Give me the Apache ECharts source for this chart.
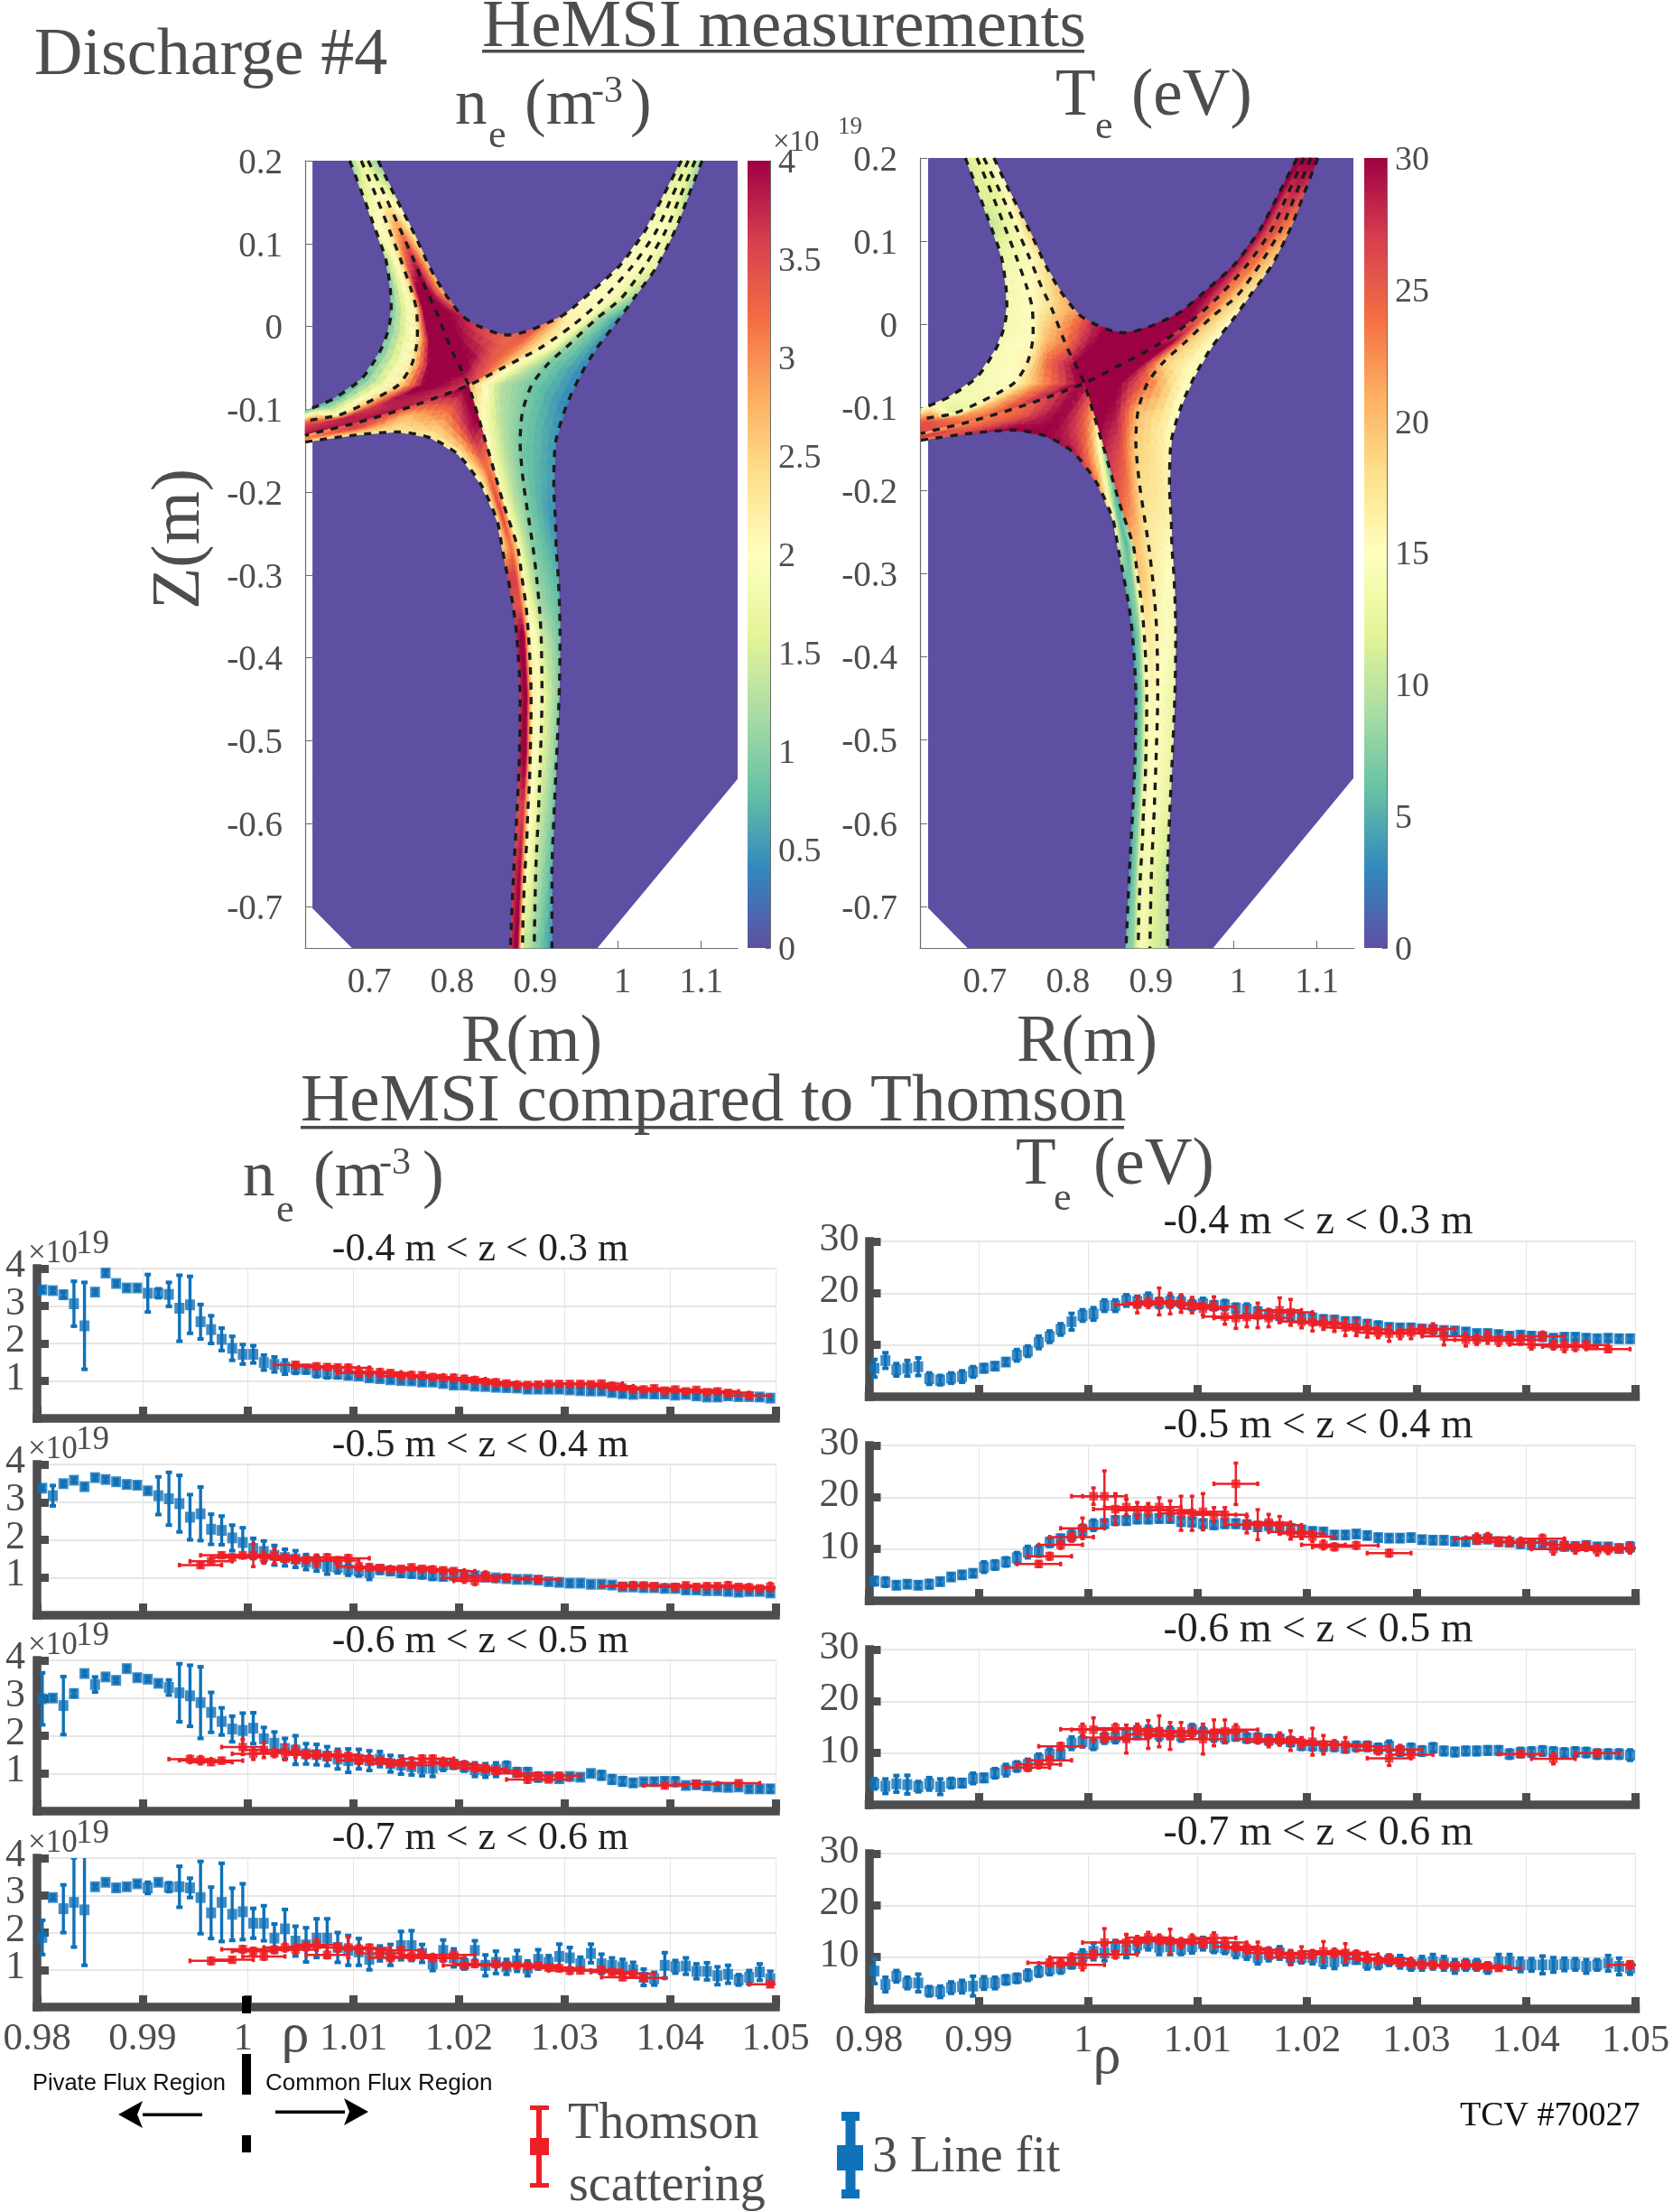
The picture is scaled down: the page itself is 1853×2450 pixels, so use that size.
<!DOCTYPE html>
<html><head><meta charset="utf-8">
<style>html,body{margin:0;background:#fff}#c{width:1853px;height:2450px}</style>
<script src="https://cdn.jsdelivr.net/npm/echarts@6/dist/echarts.min.js"></script>
</head><body><div id="c"></div>
<script>
// TCV #70027 HeMSI maps and flux-surface profiles.

// Spectral colour table used by both maps.
const spectral = ['#5E4FA2','#3288BD','#66C2A5','#ABDDA4','#E6F598','#FFFFBF','#FEE08B','#FDAE61','#F46D43','#D53E4F','#9E0142'];

// Vessel outline in (R, z), metres.
const vesselOutline = [[0.6315,0.2],[1.144,0.2],[1.144,-0.546],[0.975,-0.75],[0.679,-0.75],[0.6315,-0.702]];

// Mesh rails in (R, z): each rail runs along a flux contour, one point per station.
const leftOuterRail = [[.6764,.2],[.6903,.1633],[.707,.1179],[.7197,.0816],[.7253,.0453],[.7264,.0199],[.7225,-.0055],[.7125,-.0309],[.6903,-.0636],[.657,-.0872],[.6445,-.093],[.632,-.0981],[.6227,-.1015]];
const leftInnerRail = [[.6903,.2],[.7058,.1633],[.7236,.1179],[.7375,.0816],[.7502,.0453],[.7569,.0199],[.758,-.0128],[.7513,-.0455],[.7347,-.0709],[.6958,-.0927],[.6625,-.1072],[.632,-.1126],[.6227,-.1155]];
const leftMidRail = [[.6936,.2],[.71,.1633],[.729,.1179],[.7437,.0816],[.7573,.0453],[.7661,.0199],[.7742,-.0186],[.7748,-.0473],[.7687,-.0709],[.7015,-.0992],[.6714,-.1108],[.632,-.1192],[.6227,-.1215]];
const leftSepRail = [[.6986,.2],[.7164,.1633],[.737,.1179],[.753,.0816],[.768,.0453],[.78,.0199],[.7986,-.0273],[.81,-.05],[.8196,-.0709],[.71,-.109],[.6847,-.1163],[.632,-.129],[.6227,-.1315]];
const topSepRail = [[.6986,.2],[.7164,.1633],[.737,.1179],[.753,.0816],[.768,.0453],[.78,.0199],[.7986,-.0273],[.81,-.05],[.8196,-.0709],[.8624,-.0491],[.9068,-.0255],[.9457,.0017],[.979,.0308],[1.0168,.0726],[1.0456,.1143],[1.065,.157],[1.0845,.2]];
const topBoundaryRail = [[.7108,.2],[.728,.1633],[.753,.1143],[.7736,.07],[.791,.04],[.812,.013],[.8291,.0017],[.8568,-.0091],[.8707,-.0102],[.8957,-.0037],[.929,.0108],[.94,.018],[.97,.044],[1.0012,.0726],[1.0318,.1143],[1.054,.157],[1.0762,.2]];
const rightSepRail = [[1.0845,.2],[1.065,.157],[1.0456,.1143],[1.0168,.0726],[.979,.0308],[.9457,.0017],[.9068,-.0255],[.8624,-.0491],[.8196,-.0709],[.8319,-.1108],[.8458,-.158],[.8624,-.2161],[.8789,-.267],[.884,-.303],[.889,-.338],[.892,-.374],[.895,-.445],[.894,-.516],[.891,-.586],[.8875,-.659],[.8847,-.75]];
const rightMidRail = [[1.0887,.2],[1.0699,.157],[1.0512,.1143],[1.0243,.0726],[.9915,.0326],[.9596,.0054],[.9249,-.0228],[.8888,-.0473],[.8577,-.0709],[.8583,-.1072],[.8638,-.149],[.8742,-.203],[.8882,-.267],[.8929,-.303],[.897,-.338],[.8996,-.374],[.9016,-.445],[.9002,-.516],[.8975,-.586],[.8941,-.659],[.8918,-.75]];
const rightInnerRail = [[1.0928,.2],[1.0748,.157],[1.0567,.1143],[1.0318,.0726],[1.004,.0344],[.9734,.009],[.9429,-.02],[.9151,-.0455],[.8957,-.0709],[.8846,-.1035],[.8818,-.1399],[.886,-.19],[.8974,-.267],[.9017,-.303],[.905,-.338],[.9072,-.374],[.9082,-.445],[.9064,-.516],[.9039,-.586],[.9006,-.659],[.8988,-.75]];
const rightOuterRail = [[1.1011,.2],[1.0845,.157],[1.0678,.1143],[1.0456,.0707],[1.0206,.0362],[1.0012,.009],[.9734,-.0273],[.954,-.06],[.9374,-.0963],[.9246,-.1399],[.9224,-.1943],[.9246,-.2379],[.9253,-.267],[.9278,-.303],[.9293,-.338],[.93,-.374],[.9289,-.445],[.926,-.516],[.9228,-.586],[.9202,-.659],[.9202,-.75]];
const bottomBoundaryRail = [[.6227,-.1395],[.632,-.138],[.6847,-.1308],[.7347,-.1272],[.7736,-.1344],[.8069,-.1544],[.8346,-.1907],[.8541,-.2343],[.86,-.267],[.867,-.303],[.8734,-.338],[.8778,-.374],[.8818,-.445],[.881,-.516],[.878,-.586],[.874,-.659],[.87,-.75]];
const bottomMidRail = [[.6227,-.135],[.632,-.1326],[.6847,-.1221],[.7447,-.1087],[.8012,-.0963],[.8223,-.1282],[.8412,-.1711],[.8591,-.2234],[.8713,-.267],[.8772,-.303],[.8828,-.338],[.8864,-.374],[.8897,-.445],[.8888,-.516],[.8858,-.586],[.8821,-.659],[.8788,-.75]];
const bottomSepRail = [[.6227,-.1315],[.632,-.129],[.6847,-.1163],[.7513,-.0963],[.8196,-.0709],[.8319,-.1108],[.8458,-.158],[.8624,-.2161],[.8789,-.267],[.884,-.303],[.889,-.338],[.892,-.374],[.895,-.445],[.894,-.516],[.891,-.586],[.8875,-.659],[.8847,-.75]];

// Dashed separatrix legs crossing at the X-point.
const separatrixA = [[.6986,.2],[.7164,.1633],[.737,.1179],[.753,.0816],[.768,.0453],[.78,.0199],[.7986,-.0273],[.81,-.05],[.8196,-.0709],[.8319,-.1108],[.8458,-.158],[.8624,-.2161],[.8789,-.267],[.884,-.303],[.889,-.338],[.892,-.374],[.894,-.409],[.895,-.445],[.8948,-.481],[.894,-.516],[.893,-.552],[.891,-.586],[.8897,-.623],[.8875,-.659],[.8854,-.71],[.8847,-.75]];
const separatrixB = [[1.0845,.2],[1.065,.157],[1.0456,.1143],[1.0168,.0726],[.979,.0308],[.9457,.0017],[.9068,-.0255],[.8624,-.0491],[.8196,-.0709],[.7513,-.0963],[.6847,-.1163],[.632,-.129],[.6227,-.1315]];

// Electron density at the mesh nodes, 1e19 m^-3 (rows: stations, columns: rails).
const neLeft = [[1.0,1.8,1.6,1.4],[1.5,1.9,2.0,1.8],[1.9,2.2,2.6,3.0],[1.2,2.4,3.2,3.8],[.9,2.4,4.0,4.2],[.9,2.3,4.2,4.2],[.9,2.2,4.2,4.2],[.9,2.3,4.2,4.2],[.8,2.3,4.2,3.6],[.6,2.5,3.6,3.9],[.7,2.0,3.8,3.8],[.7,3.2,3.6,3.9],[.7,3.2,3.6,3.9]];
const neTop = [[1.4,1.0],[1.8,1.5],[3.0,2.2],[3.8,2.6],[4.2,2.7],[4.2,3.8],[4.2,3.6],[4.2,3.3],[3.6,3.2],[2.6,3.5],[2.2,2.7],[2.1,2.1],[2.0,2.0],[2.0,1.9],[2.0,1.9],[1.8,1.8],[1.6,1.4]];
const neRight = [[1.6,1.5,1.4,1.1],[1.8,1.8,1.7,1.2],[2.0,2,1.9,1.7],[2.0,2,1.9,1.7],[2.0,1.9,1.6,1.1],[2.1,1.8,1.2,.5],[2.2,1.9,1.1,.45],[2.3,1.6,.95,.4],[2.8,1.3,.9,.4],[2.2,1.3,.95,.5],[2.0,1.3,.9,.55],[2.0,1.3,.95,.45],[2.0,1.4,1.0,.6],[2.1,1.5,1.1,.7],[2.0,1.7,1.2,.8],[2.2,2,1.5,.85],[2.2,2.1,1.8,1.0],[2.2,2,1.7,1.0],[2.1,1.9,1.5,.9],[2.0,1.8,1.4,.7],[1.4,1.3,1.1,.5]];
const neBottom = [[2.3,3.2,2.7],[2.3,3.2,2.7],[2.1,3.6,3.6],[2.3,2.6,3.4],[2.2,3.4,4.2],[2.1,3.8,4.1],[2.0,3.2,3.0],[2.2,3.6,2.8],[2.4,3.2,2.5],[3.6,3.6,2.4],[3.4,3.4,2.4],[3.8,4.2,2.4],[3.6,4.2,2.5],[3.8,4.2,2.5],[3.4,3.6,2.5],[3.6,4.0,2.3],[3.6,4.2,1.8]];

// Electron temperature at the mesh nodes, eV.
const teLeft = [[11,13,13,14],[12,12,12,13],[10,12,13,14],[13,14,14,15],[14,15,15,16],[14,15,16,18],[14,15,20,24],[14,16,24,30],[14,15,22,31],[14,14,20,25],[14,12,22,24],[14,24,26,26],[14,24,26,26]];
const teTop = [[14,15],[13,16],[14,19],[15,17],[16,20],[18,22],[24,28],[31,31],[31,31],[31,31],[30,31],[30,31],[26,31],[25,30],[25,30],[26,31],[30,31]];
const teRight = [[30,30,30,31],[27,28,28,26],[26,26,24,22],[24,24,21,18],[24,22,19,17],[26,25,20,15],[29,30,20,14],[31,31,19,14],[31,31,24,14],[31,29,20,15],[28,26,19,16],[25,23,18,16],[20,19,17,15],[20,19,17,14],[18,18,16,14],[16,17,16,14],[14,16,15,13],[13,15,15,13],[13,15,15,12],[13,14,13,10],[14,14,12,10]];
const teBottom = [[22,28,20],[22,28,20],[28,24,23],[31,25,24],[30,30,30],[29,24,20],[24,16,7],[16,6,5],[12,5,11],[6,7,15],[5,8,16],[4,8,16],[4,8,14],[5,8,14],[5,8,15],[4,8,14],[7,8,13]];

// Radial grid of the three-line fit.
const rhoFit = [.9805,.9815,.9825,.9835,.9845,.9855,.9865,.9875,.9885,.9895,.9905,.9915,.9925,.9935,.9945,.9955,.9965,.9975,.9985,.9995,1.0005,1.0015,1.0025,1.0035,1.0045,1.0055,1.0065,1.0075,1.0085,1.0095,1.0105,1.0115,1.0125,1.0135,1.0145,1.0155,1.0165,1.0175,1.0185,1.0195,1.0205,1.0215,1.0225,1.0235,1.0245,1.0255,1.0265,1.0275,1.0285,1.0295,1.0305,1.0315,1.0325,1.0335,1.0345,1.0355,1.0365,1.0375,1.0385,1.0395,1.0405,1.0415,1.0425,1.0435,1.0445,1.0455,1.0465,1.0475,1.0485,1.0495];

// Three-line fit density and its error, one list per z window.
const neFit1 = [3.43,3.41,3.30,3.06,2.47,3.37,3.88,3.6,3.48,3.48,3.34,3.34,3.31,2.94,3.03,2.58,2.37,2.11,1.87,1.71,1.71,1.49,1.44,1.37,1.32,1.31,1.23,1.2,1.18,1.15,1.13,1.08,1.06,1.03,1.01,1.0,.97,.97,.93,.89,.89,.86,.85,.83,.82,.81,.78,.78,.78,.78,.76,.74,.73,.73,.69,.66,.64,.66,.65,.65,.62,.64,.6,.57,.57,.6,.58,.58,.57,.54];
const neFitErr1 = [.06,.06,.08,.6,1.16,.06,.06,.06,.06,.06,.5,.12,.32,.88,.76,.46,.37,.3,.32,.26,.23,.2,.2,.19,.12,.1,.12,.12,.1,.08,.06,.06,.06,.06,.06,.06,.06,.06,.06,.06,.06,.06,.06,.06,.06,.06,.06,.06,.06,.06,.06,.06,.06,.06,.06,.06,.06,.06,.06,.06,.06,.06,.06,.06,.06,.06,.06,.06,.06,.06];
const neFit2 = [3.37,3.17,3.49,3.58,3.41,3.65,3.6,3.54,3.47,3.45,3.3,3.17,3.09,2.96,2.6,2.69,2.28,2.25,2.05,1.93,1.77,1.69,1.59,1.53,1.49,1.41,1.37,1.29,1.27,1.21,1.17,1.13,1.21,1.17,1.13,1.11,1.09,1.05,1.03,1.05,1.07,1.05,1.01,.99,.97,.95,.95,.93,.89,.87,.85,.85,.82,.82,.8,.75,.75,.73,.73,.71,.71,.67,.67,.65,.65,.63,.61,.63,.63,.59];
const neFitErr2 = [.06,.27,.06,.06,.06,.06,.06,.06,.06,.06,.06,.5,.7,.75,.6,.71,.4,.38,.34,.39,.27,.28,.26,.22,.22,.2,.2,.2,.15,.15,.13,.18,.1,.08,.1,.1,.1,.1,.08,.08,.06,.06,.06,.06,.06,.06,.06,.06,.06,.06,.06,.06,.06,.06,.06,.06,.06,.06,.06,.06,.06,.06,.06,.06,.06,.06,.06,.06,.06,.06];
const neFit3 = [2.98,3.0,2.8,3.12,3.65,3.36,3.56,3.47,3.78,3.54,3.5,3.39,3.28,3.14,3.06,2.88,2.62,2.38,2.18,2.14,2.2,1.92,1.8,1.66,1.62,1.52,1.5,1.46,1.38,1.34,1.38,1.34,1.38,1.26,1.22,1.18,1.14,1.14,1.22,1.24,1.18,1.1,1.08,1.1,1.18,1.03,1.03,.9,.92,.86,.92,.9,1.0,.95,.84,.79,.75,.78,.78,.79,.78,.68,.7,.67,.64,.63,.64,.59,.59,.59];
const neFitErr3 = [.69,.06,.77,.08,.06,.2,.06,.06,.06,.06,.06,.06,.2,.77,.81,.95,.53,.36,.34,.46,.41,.3,.3,.27,.38,.27,.27,.25,.26,.31,.26,.26,.2,.22,.24,.22,.2,.22,.14,.1,.12,.18,.18,.18,.12,.1,.1,.1,.08,.06,.06,.06,.06,.1,.1,.1,.08,.06,.08,.08,.1,.06,.08,.06,.06,.06,.06,.06,.06,.08];
const neFit4 = [1.87,2.94,2.64,2.81,2.61,3.23,3.35,3.2,3.23,3.31,3.2,3.35,3.22,3.23,3.2,2.94,2.53,2.81,2.49,2.56,2.25,2.25,1.85,2.1,1.77,1.67,1.85,1.85,1.6,1.52,1.48,1.28,1.44,1.4,1.65,1.65,1.44,1.16,1.52,1.32,1.16,1.52,1.12,1.2,1.08,1.24,1.04,1.28,1.2,1.36,1.32,1.16,1.44,1.16,1.12,1.08,1.0,.8,.76,1.12,1.08,1.1,.96,.96,.84,.88,.73,.8,.94,.76];
const neFitErr4 = [.46,.06,.64,1.2,1.49,.06,.06,.06,.06,.06,.15,.06,.12,.55,.26,.97,.69,1.05,.7,.75,.4,.47,.38,.52,.4,.46,.52,.52,.4,.4,.36,.28,.2,.28,.38,.4,.24,.18,.28,.24,.14,.26,.28,.3,.2,.28,.2,.26,.18,.33,.28,.18,.25,.26,.2,.2,.2,.22,.17,.34,.17,.22,.2,.23,.24,.24,.14,.18,.22,.2];

// Three-line fit temperature and its error, one list per z window.
const teFit1 = [5.5,7.0,5.2,5.5,5.8,3.5,3.2,3.6,3.9,4.8,5.5,5.9,6.7,8.0,8.8,10.5,11.6,13.0,14.5,15.7,16,17.6,17.6,18.6,18.4,18.9,18.1,18.4,18.3,17.7,18.0,17.6,17.7,17.1,16.9,16.4,15.9,15.7,15.6,15.2,15.2,14.9,14.8,14.5,14.5,14,13.7,13.4,13.3,13.3,13.1,13.0,12.8,12.7,12.5,12.2,12.2,12.0,11.7,11.9,11.7,11.6,11.3,11.5,11.5,11.3,11.2,11.3,11.2,11.2];
const teFitErr1 = [1.7,1.5,1.2,1.5,1.7,1.1,.9,1.0,1.1,1.0,.7,.6,.6,1.1,1,1.2,1.1,1.1,1.6,1.1,1.2,1.1,1.1,1.1,1.0,1.1,.9,1.1,1.0,.9,1.0,.8,.9,.8,1,.8,.8,.8,.7,.7,.7,.7,.7,.7,.7,.7,.7,.6,.6,.6,.6,.6,.6,.6,.6,.6,.6,.6,.6,.6,.6,.6,.6,.6,.6,.6,.6,.6,.6,.6];
const teFit2 = [3.8,3.6,3.0,3.2,3,3.2,3.7,4.6,5.0,5.3,6.5,6.9,7.5,8.3,9.4,9.6,11.3,12,12.6,13.6,14.6,14.9,15.5,15.5,15.8,15.8,15.9,15.9,15.3,15.2,14.9,14.7,14.9,14.9,14.7,14.3,14.5,14.1,14,13.7,13.4,13.3,12.7,12.7,12.9,12.6,12.2,12.1,12.1,12.2,11.8,11.7,11.7,11.5,11.4,11.8,11.9,11.4,11.3,11,10.8,10.9,10.7,10.5,10.5,10.7,10.4,10.4,10.1,10.4];
const teFitErr2 = [.7,.8,.6,.6,.6,.7,.6,.6,.6,.6,1,.8,.8,1,1.1,1,.8,.6,1,1,1,.7,.7,.7,.7,.7,.7,.7,.7,.7,.7,.7,.7,.7,.7,.7,.6,.6,.6,.6,.6,.6,.6,.6,.6,.6,.6,.6,.6,.6,.6,.6,.6,.6,.6,.6,.6,.6,.6,.6,.6,.6,.6,.6,.6,.6,.6,.6,.6,.8];
const teFit3 = [4.05,3.6,4.05,3.9,3.5,4.05,3.5,4.2,4.2,5.1,5.2,6.1,6.7,7.4,7.8,8.8,9.8,9.7,11.9,12.2,11.7,12.9,13,13.6,13.9,14.1,13.6,13.9,13.3,14.5,13.9,13.3,13,13.3,12.9,12.9,12.6,12.7,12.2,11.5,11.4,11.3,11.3,11,11.3,11.3,10.9,11.3,10.4,10.9,10.4,11,10.4,10.2,10.4,10.4,10.5,10.5,9.8,10.1,10.2,10.4,10.2,10,10.2,10.1,9.8,9.8,9.8,9.6];
const teFitErr3 = [1,1.4,1.6,1.8,1,1.2,1.5,.9,.7,1,.7,.9,1.1,.9,1,1,1,1,1.2,1,1,1,1,1,1.1,1.1,1.1,1.1,1,1,1,1,1,.8,.8,.8,.8,.8,.8,.8,.8,.8,.8,.8,.8,.8,.8,1,.8,.8,.8,.8,.7,.7,.7,.7,.7,.7,.8,.8,.8,.8,.8,.8,.8,.8,.8,.8,.8,1];
const teFit4 = [7.3,4.7,6.3,5,5,3.4,3.3,4.1,4.3,4.4,5,5,5.6,5.9,6.5,7.2,7.6,7.9,8.7,10.2,11.1,10.8,12,11.4,12.3,12.6,11.9,12,11.5,12,12.6,11.9,11.7,11.1,10.8,9.9,10.5,10.8,9.9,9.9,9.9,9.1,9.1,9.7,9.5,8.8,8.8,9.4,9.1,8.5,8.8,9.1,8.8,8.2,8.5,8.5,7.9,9.1,9.1,8.5,8.5,8.5,8.5,8.6,8.6,8.2,8.5,8.8,8.2,7.9];
const teFitErr4 = [2.4,1.4,1.1,1.1,1.7,.9,1.1,1.1,1.2,1.9,1.2,1.1,.8,.8,1,.9,1,1,.8,1.2,1.6,1.5,1.2,1.5,1.3,1.2,1.4,1.5,1,1.2,1.2,1,1,1.2,1.2,1.2,1.2,1.2,1.2,1,1.2,1.1,1.3,1.2,.6,1.1,1,1,1.2,1,1.3,1.4,1.3,1.3,1,1,1,1.4,1.4,1.3,1.2,1.7,1.4,1.2,1.1,1.3,1,1.5,1.6,1.2];

// Half-width of the Thomson radial error bars.
const thomsonRhoErr = 0.002;

// Thomson scattering density: [rho, value, error].
const neThomson1 = [[1.0045,1.43,.06],[1.0065,1.39,.06],[1.0075,1.37,.06],[1.0085,1.36,.06],[1.0095,1.35,.08],[1.0105,1.21,.08],[1.0115,1.24,.12],[1.0125,1.23,.08],[1.0135,1.21,.06],[1.0145,1.13,.06],[1.0155,1.15,.08],[1.0165,1.15,.06],[1.0175,1.1,.06],[1.0185,1.08,.06],[1.0195,1.08,.08],[1.0205,1.05,.08],[1.0215,1.02,.06],[1.0225,.97,.05],[1.0235,.96,.05],[1.0245,.93,.05],[1.0255,.89,.05],[1.0265,.89,.05],[1.0275,.9,.05],[1.0285,.92,.05],[1.0295,.92,.05],[1.0305,.92,.05],[1.0315,.92,.05],[1.0325,.91,.05],[1.0335,.93,.05],[1.0345,.86,.08],[1.0355,.82,.05],[1.0365,.77,.05],[1.0375,.77,.05],[1.0385,.8,.06],[1.0395,.74,.05],[1.0405,.77,.06],[1.0415,.72,.05],[1.0425,.76,.05],[1.0435,.7,.05],[1.0445,.72,.05],[1.0455,.68,.05],[1.0475,.61,.04]];
const neThomson2 = [[.9955,1.33,.06],[.9965,1.43,.06],[.9975,1.59,.06],[.9985,1.53,.06],[.9995,1.59,.06],[1.0005,1.59,.3],[1.0015,1.53,.15],[1.0025,1.57,.2],[1.0035,1.51,.1],[1.0045,1.47,.08],[1.0055,1.47,.08],[1.0065,1.45,.15],[1.0075,1.53,.08],[1.0085,1.45,.08],[1.0095,1.51,.08],[1.0105,1.29,.08],[1.0115,1.27,.08],[1.0125,1.25,.06],[1.0135,1.21,.06],[1.0145,1.23,.06],[1.0155,1.27,.06],[1.0165,1.23,.06],[1.0175,1.21,.06],[1.0185,1.19,.06],[1.0195,1.17,.06],[1.0205,.99,.12],[1.0215,.91,.1],[1.0225,1.05,.1],[1.0245,.99,.05],[1.0275,.95,.05],[1.0355,.77,.06],[1.0365,.79,.08],[1.0375,.79,.06],[1.0385,.77,.06],[1.0405,.75,.06],[1.0415,.79,.06],[1.0425,.75,.06],[1.0435,.77,.06],[1.0445,.77,.06],[1.0455,.79,.08],[1.0465,.75,.06],[1.0475,.73,.08],[1.0485,.71,.06],[1.0495,.75,.1]];
const neThomson3 = [[.9945,1.38,.08],[.9955,1.35,.1],[.9965,1.3,.06],[.9975,1.34,.06],[.9995,1.7,.2],[1.0005,1.52,.15],[1.0015,1.62,.2],[1.0025,1.54,.1],[1.0035,1.56,.2],[1.0045,1.58,.15],[1.0055,1.5,.08],[1.0065,1.5,.08],[1.0075,1.46,.1],[1.0085,1.5,.08],[1.0095,1.46,.08],[1.0105,1.34,.08],[1.0115,1.38,.08],[1.0125,1.34,.06],[1.0135,1.26,.06],[1.0145,1.28,.06],[1.0155,1.22,.06],[1.0165,1.39,.08],[1.0175,1.39,.08],[1.0185,1.3,.08],[1.0195,1.26,.06],[1.0205,1.22,.06],[1.0215,1.15,.06],[1.0225,1.12,.06],[1.0235,1.07,.06],[1.0255,1.0,.06],[1.0265,.84,.08],[1.0275,.94,.06],[1.0285,.84,.06],[1.0295,.94,.06],[1.0395,.68,.05],[1.0425,.72,.05],[1.0465,.74,.05]];
const neThomson4 = [[.9965,1.24,.08],[.9985,1.27,.06],[.9995,1.55,.08],[1.0005,1.5,.08],[1.0015,1.36,.08],[1.0025,1.54,.08],[1.0035,1.6,.1],[1.0045,1.54,.1],[1.0055,1.62,.1],[1.0065,1.67,.15],[1.0075,1.4,.08],[1.0085,1.6,.1],[1.0095,1.6,.27],[1.0105,1.56,.1],[1.0115,1.59,.08],[1.0125,1.44,.08],[1.0135,1.32,.08],[1.0145,1.52,.1],[1.0155,1.36,.08],[1.0165,1.4,.1],[1.0175,1.32,.08],[1.0185,1.32,.08],[1.0195,1.4,.08],[1.0205,1.12,.06],[1.0215,1.16,.08],[1.0235,1.15,.06],[1.0245,1.12,.08],[1.0255,1.12,.06],[1.0265,1.1,.06],[1.0275,1.12,.06],[1.0285,1.06,.06],[1.0295,1.04,.06],[1.0305,.98,.08],[1.0315,.98,.06],[1.0335,1.0,.06],[1.0345,.94,.06],[1.0355,.8,.06],[1.0365,.9,.06],[1.0375,.78,.06],[1.0495,.61,.05]];

// Thomson scattering temperature: [rho, value, error].
const teThomson1 = [[1.0045,17.8,1.6],[1.0055,18.1,.9],[1.0065,18.4,2.6],[1.0075,18,2],[1.0085,18,1.7],[1.0095,17.7,1.5],[1.0105,17,1.2],[1.0115,17.4,1.9],[1.0125,15.5,1.5],[1.0135,15.2,2],[1.0145,15.4,1.9],[1.0155,15.7,2.4],[1.0165,15.2,1.7],[1.0175,16.7,2.4],[1.0185,16.3,2.5],[1.0195,14.5,1.2],[1.0205,14.4,1.7],[1.0215,14.2,1.2],[1.0225,13.9,1.3],[1.0235,13.4,1.6],[1.0245,13.3,1.5],[1.0255,13,1.5],[1.0265,12.4,1],[1.0275,12.2,1.5],[1.0285,12.2,1],[1.0295,12.4,1.2],[1.0305,12.9,.8],[1.0315,13.1,1],[1.0325,11.7,1.7],[1.0345,11,1.2],[1.0355,11,.9],[1.0365,11.5,1.2],[1.0375,10.8,.9],[1.0385,11,.9],[1.0395,11,.9],[1.0405,10.1,.9],[1.0415,11.7,.8],[1.0425,10,.8],[1.0435,9.7,1],[1.0445,9.7,.8],[1.0455,10,.8],[1.0475,9.2,.5]];
const teThomson2 = [[.9955,7.1,.5],[.9965,8.6,.6],[.9975,10.8,.7],[.9985,12.3,.8],[.9995,14,2],[1.0005,20.2,1.6],[1.0015,20.2,4.9],[1.0025,17.7,3],[1.0035,18.1,1.5],[1.0045,17.5,1.5],[1.0055,17.6,1.2],[1.0065,18.1,1.8],[1.0075,17.5,1.8],[1.0085,16.9,3.3],[1.0095,16.9,3.3],[1.0105,17.2,3.5],[1.0115,16.6,1.4],[1.0125,16.6,1.4],[1.0135,22.6,4],[1.0145,14.7,1.6],[1.0155,14.7,2.9],[1.0165,15.1,1.6],[1.0175,14.6,1.7],[1.0185,13.3,1.4],[1.0195,13,1],[1.0205,12.4,1],[1.0215,10.8,.8],[1.0225,10.4,.6],[1.0245,10.7,.6],[1.0275,9.2,.6],[1.0355,12,.9],[1.0365,12.2,.8],[1.0375,11.4,.7],[1.0385,11.4,.7],[1.0395,11.3,.7],[1.0405,11.2,.7],[1.0415,12,.7],[1.0425,10,1],[1.0435,10.8,1],[1.0445,10.2,1],[1.0455,10.5,.8],[1.0465,9.8,1],[1.0475,10,.9],[1.0485,10.1,.7],[1.0495,10.2,1]];
const teThomson3 = [[.9945,7.2,.6],[.9955,7.8,.7],[.9965,8.6,.8],[.9975,11.3,.6],[.9995,14.6,1],[1.0005,14.5,2.3],[1.0015,13,.8],[1.0025,14.8,.8],[1.0035,12.7,2.7],[1.0045,14.6,1],[1.0055,13.6,2.7],[1.0065,14.2,3],[1.0075,13.3,2.6],[1.0085,14.2,1.7],[1.0095,13.9,1],[1.0105,12.7,2.9],[1.0115,13.9,2.5],[1.0125,14.2,2.2],[1.0135,14.5,1],[1.0155,12.7,.8],[1.0165,12.2,1],[1.0175,12.7,1.2],[1.0185,12.4,1.9],[1.0195,12,1],[1.0205,12.2,2.6],[1.0215,11.6,1.8],[1.0225,11.6,.8],[1.0235,11.6,1.4],[1.0255,11.3,.7],[1.0265,10.5,.7],[1.0275,9,1.4],[1.0285,10.7,.8],[1.0295,9.7,.6],[1.0395,9.8,.4],[1.0425,8.9,1],[1.0465,10,.4]];
const teThomson4 = [[.9965,8.9,.6],[.9975,8.8,.7],[.9985,9.9,.7],[.9995,8.5,1],[1.0005,10.5,.8],[1.0015,12.8,2.7],[1.0025,10.5,.7],[1.0035,12.8,1.6],[1.0045,13.1,.9],[1.0055,13.8,1],[1.0065,13.4,.9],[1.0075,13.1,2.3],[1.0085,12.7,.9],[1.0095,13.4,.9],[1.0105,12.8,.9],[1.0115,13.7,1],[1.0125,12.8,.9],[1.0135,12,.8],[1.0145,11.7,.8],[1.0155,11.4,1.5],[1.0165,10.8,.8],[1.0175,10.8,.8],[1.0185,9.9,1.4],[1.0195,10.5,1.5],[1.0205,10.5,.8],[1.0215,11.1,1.9],[1.0225,10.8,.8],[1.0235,10.8,1.8],[1.0245,10.5,.7],[1.0255,9.7,.7],[1.0265,9.4,.7],[1.0275,9.7,.7],[1.0285,9,.6],[1.0295,8.8,.7],[1.0305,8.5,.7],[1.0315,8.5,.6],[1.0325,8.5,.6],[1.0335,8.3,.6],[1.0345,8.6,.6],[1.0355,8.3,.6],[1.0365,8.2,.6],[1.0375,7.9,.4],[1.0495,8.5,.6]];

// Tick labels and window captions.
const rTicks = [0.7,0.8,0.9,1,1.1];
const zTicks = [-0.7,-0.6,-0.5,-0.4,-0.3,-0.2,-0.1,0,0.1,0.2];
const neBarTicks = [0,0.5,1,1.5,2,2.5,3,3.5,4];
const teBarTicks = [0,5,10,15,20,25,30];
const rhoTicks = [0.98,0.99,1,1.01,1.02,1.03,1.04,1.05];
const neTicks = [1,2,3,4];
const neOddLabels = [1,3];
const neEvenLabels = [2,4];
const teTicks = [10,20,30];
const zWindows = ['-0.4 m < z < 0.3 m','-0.5 m < z < 0.4 m','-0.6 m < z < 0.5 m','-0.7 m < z < 0.6 m'];

const SERIF = '"Liberation Serif","Times New Roman",serif';
const INK = '#4d4d4f', BLUE = '#0f71b8', RED = '#ed2027';

const colorAt = (v, vmax) => echarts.color.lerp(Math.max(0, Math.min(1, v / vmax)), spectral);

// Fills one strip of the flux mesh with flat shaded triangles.
const SUB = 5;
function meshSeries(gridIndex, rails, values, vmax) {
  const cells = [];
  for (let r = 0; r < rails.length - 1; r++)
    for (let s = 0; s < rails[r].length - 1; s++)
      cells.push([rails[r][s][0], rails[r][s][1], r, s]);
  return {
    type: 'custom', xAxisIndex: gridIndex, yAxisIndex: gridIndex, silent: true, clip: false, z: 2,
    data: cells, animation: false,
    renderItem(params, api) {
      const r = api.value(2), s = api.value(3);
      const a = rails[r][s], b = rails[r + 1][s], c = rails[r + 1][s + 1], d = rails[r][s + 1];
      const va = values[s][r], vb = values[s][r + 1], vc = values[s + 1][r + 1], vd = values[s + 1][r];
      const node = (u, w) => {
        const p = (k0, k1, k2, k3) => (1 - u) * (1 - w) * k0 + u * (1 - w) * k1 + u * w * k2 + (1 - u) * w * k3;
        return { pt: api.coord([p(a[0], b[0], c[0], d[0]), p(a[1], b[1], c[1], d[1])]), v: p(va, vb, vc, vd) };
      };
      const children = [];
      const tri = (n1, n2, n3) => {
        const col = colorAt((n1.v + n2.v + n3.v) / 3, vmax);
        children.push({ type: 'polygon', shape: { points: [n1.pt, n2.pt, n3.pt] }, style: { fill: col, stroke: col, lineWidth: 0.7 } });
      };
      for (let i = 0; i < SUB; i++) for (let j = 0; j < SUB; j++) {
        const n00 = node(i / SUB, j / SUB), n10 = node((i + 1) / SUB, j / SUB), n11 = node((i + 1) / SUB, (j + 1) / SUB), n01 = node(i / SUB, (j + 1) / SUB);
        if ((i + j) % 2) { tri(n00, n10, n11); tri(n00, n11, n01); }
        else { tri(n00, n10, n01); tri(n10, n11, n01); }
      }
      return { type: 'group', children };
    }
  };
}

function vesselSeries(gridIndex) {
  return {
    type: 'custom', xAxisIndex: gridIndex, yAxisIndex: gridIndex, silent: true, clip: false, z: 1, animation: false,
    data: [vesselOutline[0]],
    renderItem(params, api) {
      return { type: 'polygon', shape: { points: vesselOutline.map(p => api.coord(p)) }, style: { fill: spectral[0] } };
    }
  };
}

const contourLine = (gridIndex, pts) => ({
  type: 'line', xAxisIndex: gridIndex, yAxisIndex: gridIndex, data: pts, showSymbol: false, silent: true, z: 5, clip: false,
  smooth: 0.25, animation: false, lineStyle: { color: '#1a1a1a', width: 3.4, type: [8, 8.5] }
});

// Error crosses drawn through the axis scales.
function errorSeries(gridIndex, rows, color, width, capW, capH, z) {
  return {
    type: 'custom', xAxisIndex: gridIndex, yAxisIndex: gridIndex, silent: true, clip: true, z, animation: false,
    data: rows,
    renderItem(params, api) {
      const x = api.value(0), y = api.value(1), ex = api.value(2), ey = api.value(3);
      const kids = [];
      const style = { fill: color };
      const hi = api.coord([x, y + ey]), lo = api.coord([x, y - ey]);
      kids.push({ type: 'rect', shape: { x: hi[0] - width / 2, y: hi[1], width, height: lo[1] - hi[1] }, style });
      kids.push({ type: 'rect', shape: { x: hi[0] - capW / 2, y: hi[1] - capH / 2, width: capW, height: capH }, style });
      kids.push({ type: 'rect', shape: { x: lo[0] - capW / 2, y: lo[1] - capH / 2, width: capW, height: capH }, style });
      if (ex > 0) {
        const l = api.coord([x - ex, y]), rt = api.coord([x + ex, y]);
        kids.push({ type: 'rect', shape: { x: l[0], y: l[1] - width / 2, width: rt[0] - l[0], height: width }, style });
        kids.push({ type: 'rect', shape: { x: l[0] - capH / 2, y: l[1] - capW / 2, width: capH, height: capW }, style });
        kids.push({ type: 'rect', shape: { x: rt[0] - capH / 2, y: rt[1] - capW / 2, width: capH, height: capW }, style });
      }
      return { type: 'group', children: kids };
    }
  };
}

const grids = [], xAxes = [], yAxes = [], series = [], graphics = [], labelAxes = [];

// Text helper: y is the alphabetic baseline.
function label(text, x, base, size, opts = {}) {
  graphics.push({
    type: 'text', x, y: opts.center ? base : base - 0.27 * size, rotation: opts.rotation || 0, silent: true, z: 50,
    style: { text, fill: opts.fill || INK, font: `${size}px ${opts.family || SERIF}`, textAlign: opts.align || 'left', textVerticalAlign: 'middle', align: opts.align || 'left', verticalAlign: 'middle' }
  });
}
function box(x, y, width, height, fill, z = 50) {
  graphics.push({ type: 'rect', silent: true, z, shape: { x, y, width, height }, style: { fill } });
}

// Two-dimensional maps with colour bars.
function addMap(geom, sectors, vmax, barTicks, barFmt) {
  const g = grids.length;
  grids.push({ left: geom.left, top: geom.top, width: geom.width, height: geom.height });
  const mapAxisStyle = { show: true, onZero: false, lineStyle: { color: '#6b6b6d', width: 1.2 } };
  xAxes.push({
    type: 'value', gridIndex: g, min: geom.rMin, max: geom.rMax, axisLine: mapAxisStyle, splitLine: { show: false },
    axisTick: { show: true, inside: true, length: 8, lineStyle: { color: '#6b6b6d' }, customValues: rTicks },
    axisLabel: { show: true, customValues: rTicks, margin: 19, color: INK, fontFamily: SERIF, fontSize: 39, formatter: v => v === 1 ? ' 1' : String(v) }
  });
  yAxes.push({
    type: 'value', gridIndex: g, min: -0.75, max: 0.2, axisLine: mapAxisStyle, splitLine: { show: false },
    axisTick: { show: true, inside: true, length: 8, lineStyle: { color: '#6b6b6d' }, customValues: zTicks },
    axisLabel: { show: true, customValues: zTicks, showMinLabel: true, showMaxLabel: true, margin: 25, verticalAlign: 'top', lineHeight: 7, color: INK, fontFamily: SERIF, fontSize: 39, formatter: v => String(v) }
  });
  series.push(vesselSeries(g));
  sectors.forEach(([rails, vals]) => series.push(meshSeries(g, rails, vals, vmax)));
  [leftOuterRail, leftInnerRail, topBoundaryRail, rightInnerRail, rightOuterRail, bottomBoundaryRail, separatrixA, separatrixB]
    .forEach(c => series.push(contourLine(g, c)));

  const b = grids.length;
  grids.push({ left: geom.barLeft, top: geom.top, width: 25, height: geom.height });
  xAxes.push({ type: 'category', gridIndex: b, data: [''], axisLine: { show: false }, axisTick: { show: false }, axisLabel: { show: false }, splitLine: { show: false } });
  yAxes.push({
    type: 'value', gridIndex: b, position: 'right', min: 0, max: vmax, splitLine: { show: false },
    axisLine: { show: true, lineStyle: { color: '#6b6b6d', width: 1 } },
    axisTick: { show: true, inside: true, length: 5, lineStyle: { color: '#6b6b6d' }, customValues: barTicks },
    axisLabel: { show: true, customValues: barTicks, showMinLabel: true, showMaxLabel: true, margin: 9, verticalAlign: 'top', lineHeight: 6, color: INK, fontFamily: SERIF, fontSize: 38, formatter: barFmt }
  });
  series.push({
    type: 'bar', xAxisIndex: b, yAxisIndex: b, barWidth: '100%', silent: true, animation: false, data: [vmax],
    itemStyle: { color: new echarts.graphic.LinearGradient(0, 0, 0, 1, spectral.slice().reverse().map((color, i) => ({ offset: i / 10, color }))) }
  });
}

addMap({ left: 338, top: 178, width: 479, height: 872, rMin: 0.6227, rMax: 1.144, barLeft: 828 },
  [[[leftOuterRail, leftInnerRail, leftMidRail, leftSepRail], neLeft], [[topSepRail, topBoundaryRail], neTop], [[rightSepRail, rightMidRail, rightInnerRail, rightOuterRail], neRight], [[bottomBoundaryRail, bottomMidRail, bottomSepRail], neBottom]],
  4, neBarTicks, v => String(v));
addMap({ left: 1019, top: 175, width: 481, height: 875, rMin: 0.6217, rMax: 1.1451, barLeft: 1511 },
  [[[leftOuterRail, leftInnerRail, leftMidRail, leftSepRail], teLeft], [[topSepRail, topBoundaryRail], teTop], [[rightSepRail, rightMidRail, rightInnerRail, rightOuterRail], teRight], [[bottomBoundaryRail, bottomMidRail, bottomSepRail], teBottom]],
  30, teBarTicks, v => String(v));

// Profile panels.
function addPanel(geom, yMax, ticks, labelValues, extraLabelValues, fit, fitErr, thomson, showRho, margin, labelShift) {
  const g = grids.length;
  grids.push({ left: geom.left, top: geom.top, width: geom.width, height: geom.height });
  const heavy = { show: true, onZero: false, lineStyle: { color: INK, width: 9.5, cap: 'square' } };
  const tickLabel = values => ({ show: true, customValues: values, margin, verticalAlign: 'bottom', lineHeight: labelShift, color: INK, fontFamily: SERIF, fontSize: 44, formatter: v => String(v) });
  xAxes.push({
    type: 'value', gridIndex: g, min: 0.98, max: 1.05, axisLine: heavy,
    axisTick: { show: true, inside: true, length: 13, lineStyle: { color: INK, width: 9 }, customValues: rhoTicks },
    axisLabel: { show: showRho, customValues: rhoTicks, margin: 14, color: INK, fontFamily: SERIF, fontSize: 43, formatter: v => v === 1 ? '1 ' : String(v) },
    splitLine: { show: true, lineStyle: { color: '#e6e6e7', width: 1 } }
  });
  yAxes.push({
    type: 'value', gridIndex: g, min: 0, max: yMax, axisLine: heavy,
    axisTick: { show: true, inside: true, length: 13, lineStyle: { color: INK, width: 9 }, customValues: ticks },
    axisLabel: tickLabel(labelValues),
    splitLine: { show: true, lineStyle: { color: '#e6e6e7', width: 2 } }
  });
  // Closely spaced tick labels share a second, otherwise invisible axis.
  if (extraLabelValues.length) labelAxes.push({
    type: 'value', gridIndex: g, min: 0, max: yMax, position: 'left',
    axisLine: { show: false }, axisTick: { show: false }, splitLine: { show: false }, axisLabel: tickLabel(extraLabelValues)
  });
  const fitRows = rhoFit.map((r, i) => [r, fit[i], 0, fitErr[i]]);
  series.push(errorSeries(g, fitRows, BLUE, 3.4, 7, 4, 6));
  series.push({ type: 'scatter', xAxisIndex: g, yAxisIndex: g, symbol: 'rect', symbolSize: [11, 12], silent: true, clip: false, z: 7, animation: false,
    itemStyle: { color: BLUE }, data: fitRows.map(r => [r[0], r[1]]) });
  const redRows = thomson.map(r => [r[0], r[1], thomsonRhoErr, r[2]]);
  series.push(errorSeries(g, redRows, RED, 2.5, 5, 3.5, 8));
  series.push({ type: 'scatter', xAxisIndex: g, yAxisIndex: g, symbol: 'rect', symbolSize: [9.5, 9.5], silent: true, clip: false, z: 9, animation: false,
    itemStyle: { color: RED }, data: redRows.map(r => [r[0], r[1]]) });
}

const neTops = [1405, 1622, 1839, 2058], neBottoms = [1571, 1789, 2006, 2223];
const teTops = [1375, 1601, 1827, 2053], teBottoms = [1547, 1773, 1999, 2225];
const neSets = [[neFit1, neFitErr1, neThomson1], [neFit2, neFitErr2, neThomson2], [neFit3, neFitErr3, neThomson3], [neFit4, neFitErr4, neThomson4]];
const teSets = [[teFit1, teFitErr1, teThomson1], [teFit2, teFitErr2, teThomson2], [teFit3, teFitErr3, teThomson3], [teFit4, teFitErr4, teThomson4]];
const neCaption = [1396, 1613, 1830, 2048], teCaption = [1366, 1592, 1818, 2043];

neSets.forEach((s, i) => {
  addPanel({ left: 41, top: neTops[i], width: 818, height: neBottoms[i] - neTops[i] }, 4, neTicks, neOddLabels, neEvenLabels, s[0], s[1], s[2], i === 3, 13, 5);
  label(zWindows[i], 532, neCaption[i], 44, { align: 'center', fill: '#231f20' });
  label('×10', 31, neTops[i] - 7, 35);
  label('19', 84, neTops[i] - 17, 37);
});
teSets.forEach((s, i) => {
  addPanel({ left: 962.5, top: teTops[i], width: 849, height: teBottoms[i] - teTops[i] }, 30, teTicks, teTicks, [], s[0], s[1], s[2], i === 3, 11, 3);
  label(zWindows[i], 1460, teCaption[i], 46, { align: 'center', fill: '#231f20' });
});
labelAxes.forEach(a => yAxes.push(a));

// Headings.
label('Discharge #4', 38, 83, 74);
label('HeMSI measurements', 534, 52, 75);
box(534, 55, 667, 3.5, INK);
label('HeMSI compared to Thomson', 333, 1242, 75);
box(333, 1247, 912, 3.5, INK);
// Quantity headings: symbol, subscript, unit.
label('n', 504, 138, 71); label('e', 541, 163, 44); label('(m', 581, 138, 71); label('-3', 655, 113, 42); label(')', 698, 138, 71);
label('T', 1169, 128, 73); label('e', 1213, 153, 44); label('(eV)', 1253, 128, 73);
label('n', 269, 1325, 71); label('e', 306, 1353, 44); label('(m', 347, 1325, 71); label('-3', 420, 1300, 42); label(')', 468, 1325, 71);
label('T', 1125, 1312, 73); label('e', 1167, 1340, 44); label('(eV)', 1211, 1312, 73);
// Axis names.
label('Z(m)', 200, 597, 76, { rotation: Math.PI / 2, align: 'center', center: true });
label('R(m)', 589, 1176, 74, { align: 'center' });
label('R(m)', 1204, 1176, 74, { align: 'center' });
label('×10', 856, 167, 33); label('19', 928, 148, 27);
label('ρ', 327, 2272, 62, { align: 'center' });
label('ρ', 1226, 2296, 62, { align: 'center' });

// Separatrix marker at rho = 1.
box(268, 2211, 10, 19, '#000', 60); box(268, 2275, 10, 45, '#000', 60); box(268, 2365, 10, 19, '#000', 60);
// Region notes with arrows.
const NARROW = '"Liberation Sans Narrow","Liberation Sans",sans-serif';
label('Pivate Flux Region', 36, 2315, 25.5, { family: NARROW, fill: '#111' });
label('Common Flux Region', 294, 2315, 26, { family: NARROW, fill: '#111' });
box(158, 2340.5, 66, 3.5, '#000'); box(305, 2337.5, 77, 3.5, '#000');
graphics.push({ type: 'polygon', silent: true, z: 50, shape: { points: [[131, 2342], [158, 2327], [152, 2342], [158, 2357]] }, style: { fill: '#000' } });
graphics.push({ type: 'polygon', silent: true, z: 50, shape: { points: [[408, 2339], [381, 2324], [387, 2339], [381, 2354]] }, style: { fill: '#000' } });
// Key for the two data sets.
box(594, 2332, 6, 91, RED); box(587, 2332, 21, 5, RED); box(587, 2418, 21, 5, RED); box(587, 2368, 21, 19, RED);
label('Thomson', 629, 2368, 56); label('scattering', 630, 2437, 56);
box(936.5, 2339, 11, 96, BLUE); box(932, 2339, 20, 10, BLUE); box(932, 2425, 20, 10, BLUE); box(927, 2376, 29, 28, BLUE);
label('3 Line fit', 966, 2405, 56);
label('TCV #70027', 1617, 2354, 38, { fill: '#111' });

const chart = echarts.init(document.getElementById('c'), null, { renderer: 'canvas', width: 1853, height: 2450 });
chart.setOption({
  animation: false, backgroundColor: '#fff', tooltip: { show: false },
  grid: grids, xAxis: xAxes, yAxis: yAxes, series, graphic: { elements: graphics }
});
</script></body></html>
